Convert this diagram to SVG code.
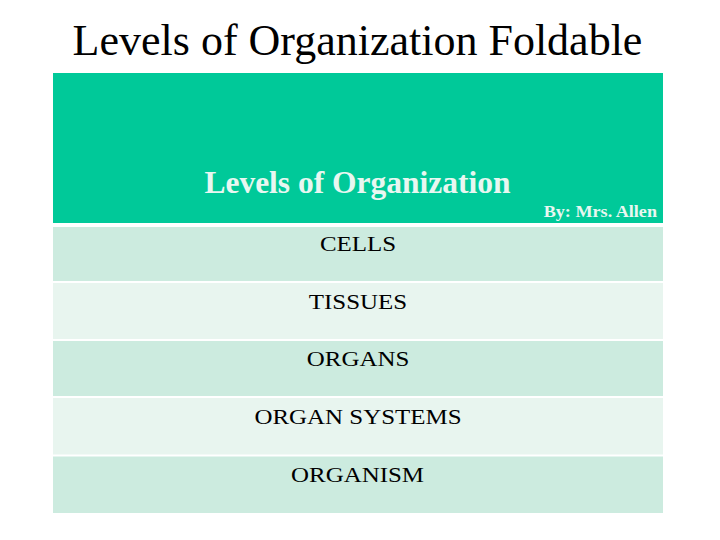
<svg xmlns="http://www.w3.org/2000/svg" width="720" height="540" viewBox="0 0 720 540">
<style>
.title{font-family:"Liberation Serif","Times New Roman",serif;font-size:44px;fill:#000;text-anchor:middle}
.hdr{font-family:"Liberation Serif","Times New Roman",serif;font-weight:bold;fill:#E8F7F1}
.row{font-family:"Liberation Serif","Times New Roman",serif;font-size:21.5px;fill:#000;text-anchor:middle}
.dark{fill:#CCEBDF}
.light{fill:#E8F5EF}
</style>
<rect x="0" y="0" width="720" height="540" fill="#FFFFFF"/>
<text class="title" x="357.5" y="55">Levels of Organization Foldable</text>
<g id="header">
<rect x="53" y="73" width="610" height="150" fill="#00C999"/>
<text class="hdr" x="357.5" y="193" font-size="31.5" text-anchor="middle">Levels of Organization</text>
<text class="hdr" transform="translate(657,217) scale(1.1,1)" x="0" y="0" font-size="16.5" text-anchor="end">By: Mrs. Allen</text>
</g>
<g id="cells">
<rect class="dark" x="53" y="227" width="610" height="54"/>
<text class="row" transform="translate(358,251) scale(1.16,1)" x="0" y="0">CELLS</text>
</g>
<g id="tissues">
<rect class="light" x="53" y="283" width="610" height="56"/>
<text class="row" transform="translate(358,308.5) scale(1.16,1)" x="0" y="0">TISSUES</text>
</g>
<g id="organs">
<rect class="dark" x="53" y="341" width="610" height="55"/>
<text class="row" transform="translate(358,366) scale(1.16,1)" x="0" y="0">ORGANS</text>
</g>
<g id="organ-systems">
<rect class="light" x="53" y="398" width="610" height="56.5"/>
<text class="row" transform="translate(358,424.3) scale(1.16,1)" x="0" y="0">ORGAN SYSTEMS</text>
</g>
<g id="organism">
<rect class="dark" x="53" y="456.5" width="610" height="56.5"/>
<text class="row" transform="translate(357.5,481.7) scale(1.16,1)" x="0" y="0">ORGANISM</text>
</g>
<g id="connectors"></g>
</svg>
